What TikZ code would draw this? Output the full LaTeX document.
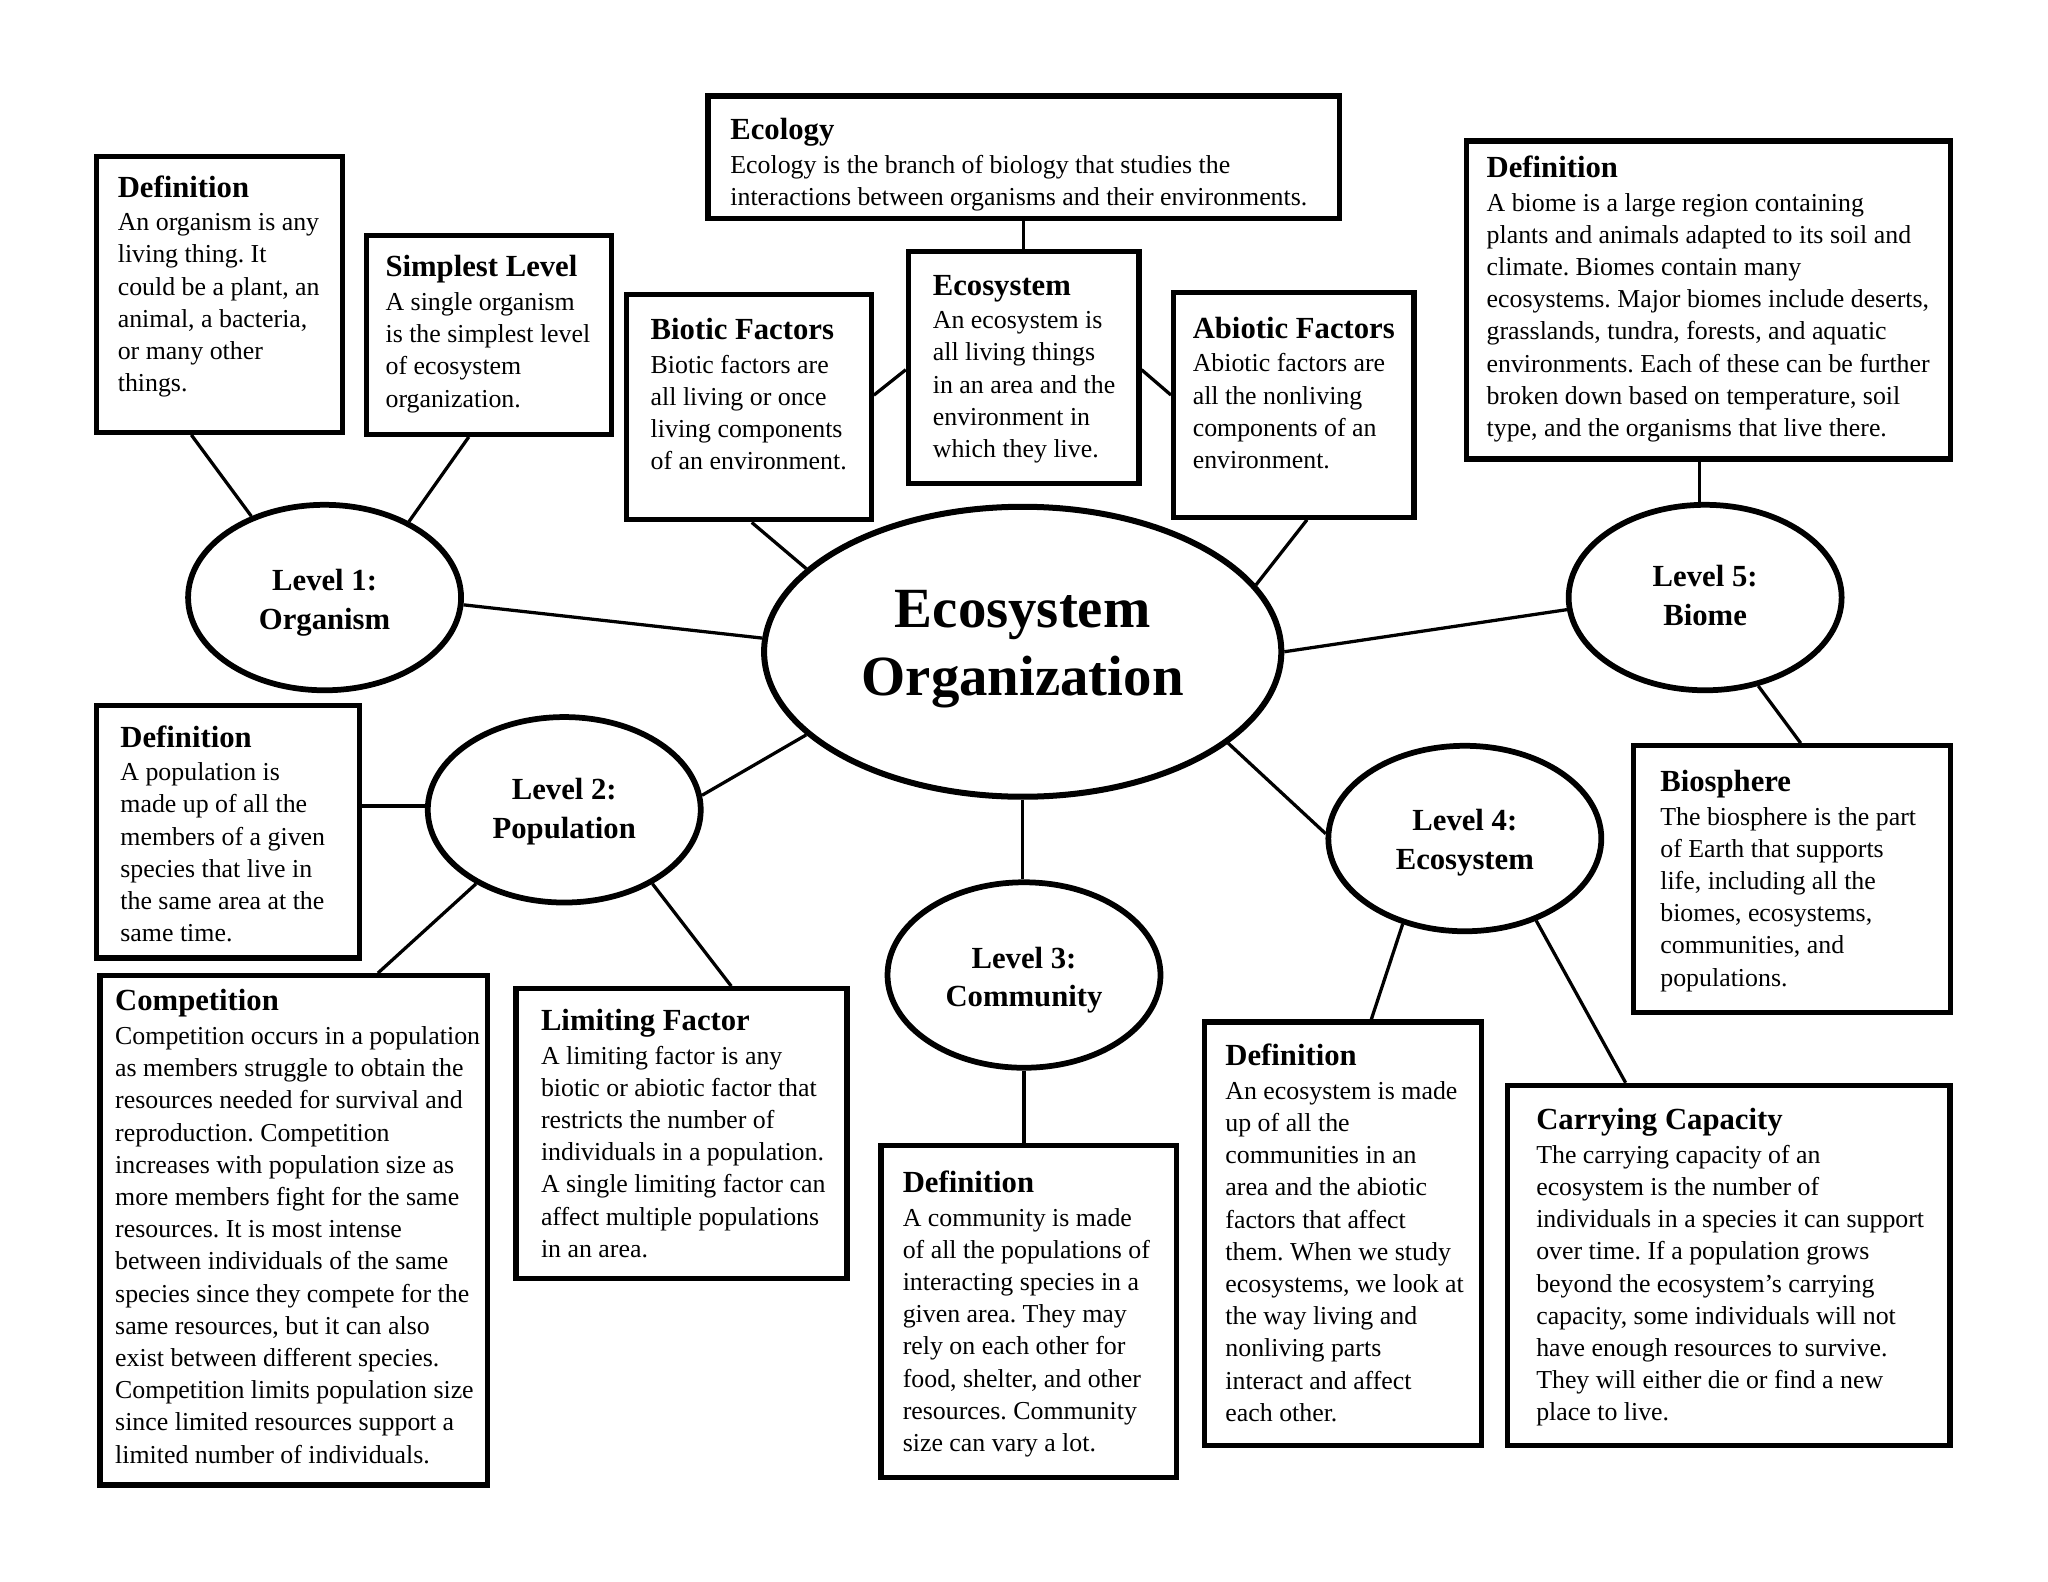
\documentclass[tikz,border=0pt]{standalone}
\usepackage{fontspec}
\setmainfont{Liberation Serif}
\usetikzlibrary{shapes.geometric,fit,calc}
\frenchspacing
\newcommand\bodyfont{\fontsize{19.8}{24.65}\selectfont}
\newcommand\headfont{\bfseries\fontsize{23.5}{29.5}\selectfont}
\newcommand\bigfont{\bfseries\fontsize{43.5}{52}\selectfont}
% name, x1, y1, x2, y2, text x, title y, title, body
\newcommand\infobox[9]{%
  \node[boxsty, fit={(#2,#3) (#4,#5)}] (#1) {};
  \node[titlesty] (#1-title) at (#6,#7+8) {#8};
  \node[bodysty] (#1-body) at (#6,#7+16.24) {\strut #9};
}
\begin{document}
\begin{tikzpicture}[x=1pt,y=-1pt,
  boxsty/.style={draw=black, line width=4pt, inner sep=0pt, rectangle},
  titlesty/.style={anchor=base west, inner sep=0pt, font=\headfont},
  bodysty/.style={anchor=north west, inner sep=0pt, align=left, font=\bodyfont},
  lvl/.style={draw=black, line width=4.4pt, ellipse, inner sep=0pt, minimum width=209pt, minimum height=142pt},
  lvltxt/.style={anchor=north, inner sep=0pt, align=center, font=\headfont},
  conn/.style={draw=black, line width=2.5pt}]
\fill[white] (0,0) rectangle (1568,1211.2);
\useasboundingbox (0,0) rectangle (1568,1211.2);

% central ellipse and levels
\node[draw=black, line width=4.6pt, ellipse, inner sep=0pt, minimum width=396pt, minimum height=222pt] (c) at (783,499) {};
\node[anchor=north, inner sep=0pt, align=center, font=\bigfont] (ct) at (783,443.6) {\strut Ecosystem\\Organization};

\node[lvl] (l1) at (248.5,457.5) {};
\node[lvltxt] (l1t) at (248.5,431.35) {\strut Level 1:\\Organism};
\node[lvl] (l2) at (432,620) {};
\node[lvltxt] (l2t) at (432,591.35) {\strut Level 2:\\Population};
\node[lvl] (l3) at (784,746.5) {};
\node[lvltxt] (l3t) at (784,720.35) {\strut Level 3:\\Community};
\node[lvl] (l4) at (1121.5,642) {};
\node[lvltxt] (l4t) at (1121.5,615.35) {\strut Level 4:\\Ecosystem};
\node[lvl] (l5) at (1305.5,457.5) {};
\node[lvltxt] (l5t) at (1305.5,428.35) {\strut Level 5:\\Biome};

% boxes
\infobox{ecol}{542}{73.5}{1025.5}{167}{559}{99}{Ecology}{Ecology is the branch of biology that studies the\\interactions between organisms and their environments.}
\infobox{odef}{74}{120}{262}{331}{90}{143}{Definition}{An organism is any\\living thing. It\\could be a plant, an\\animal, a bacteria,\\or many other\\things.}
\infobox{simp}{280.5}{180.5}{468}{332.5}{295}{204}{Simplest Level}{A single organism\\is the simplest level\\of ecosystem\\organization.}
\infobox{biot}{479.5}{225.5}{667}{398}{498}{252}{Biotic Factors}{Biotic factors are\\all living or once\\living components\\of an environment.}
\infobox{ecob}{695.5}{192.5}{872}{370}{714}{218}{Ecosystem}{An ecosystem is\\all living things\\in an area and the\\environment in\\which they live.}
\infobox{abio}{898.5}{224}{1082.5}{396}{913}{251}{Abiotic Factors}{Abiotic factors are\\all the nonliving\\components of an\\environment.}
\infobox{biome}{1123}{108}{1493.5}{351.5}{1138}{128}{Definition}{A biome is a large region containing\\plants and animals adapted to its soil and\\climate. Biomes contain many\\ecosystems. Major biomes include deserts,\\grasslands, tundra, forests, and aquatic\\environments. Each of these can be further\\broken down based on temperature, soil\\type, and the organisms that live there.}
\infobox{biosp}{1250.5}{571}{1493.5}{775}{1271}{598}{Biosphere}{The biosphere is the part\\of Earth that supports\\life, including all the\\biomes, ecosystems,\\communities, and\\populations.}
\infobox{pdef}{74}{540}{275}{733.5}{92}{564}{Definition}{A population is\\made up of all the\\members of a given\\species that live in\\the same area at the\\same time.}
\infobox{comp}{76.5}{747}{373}{1137}{88}{766}{Competition}{Competition occurs in a population\\as members struggle to obtain the\\resources needed for survival and\\reproduction. Competition\\increases with population size as\\more members fight for the same\\resources. It is most intense\\between individuals of the same\\species since they compete for the\\same resources, but it can also\\exist between different species.\\Competition limits population size\\since limited resources support a\\limited number of individuals.}
\infobox{limf}{395}{757}{648.5}{979}{414}{781}{Limiting Factor}{A limiting factor is any\\biotic or abiotic factor that\\restricts the number of\\individuals in a population.\\A single limiting factor can\\affect multiple populations\\in an area.}
\infobox{cdef}{674.5}{877}{900.5}{1131}{691}{905}{Definition}{A community is made\\of all the populations of\\interacting species in a\\given area. They may\\rely on each other for\\food, shelter, and other\\resources. Community\\size can vary a lot.}
\infobox{edef}{922}{782.5}{1134.5}{1106.5}{938}{808}{Definition}{An ecosystem is made\\up of all the\\communities in an\\area and the abiotic\\factors that affect\\them. When we study\\ecosystems, we look at\\the way living and\\nonliving parts\\interact and affect\\each other.}
\infobox{carr}{1154}{831}{1493}{1106.5}{1176}{857}{Carrying Capacity}{The carrying capacity of an\\ecosystem is the number of\\individuals in a species it can support\\over time. If a population grows\\beyond the ecosystem’s carrying\\capacity, some individuals will not\\have enough resources to survive.\\They will either die or find a new\\place to live.}

% connectors
\draw[conn] (ecol.south) -- (ecol.south |- ecob.north);
\draw[conn] ($(biot.north east)!0.448!(biot.south east)$) -- ($(ecob.north west)!0.51!(ecob.south west)$);
\draw[conn] ($(ecob.north east)!0.51!(ecob.south east)$) -- ($(abio.north west)!0.457!(abio.south west)$);
\draw[conn] ($(odef.south west)!0.388!(odef.south east)$) -- (l1.132.5);
\draw[conn] ($(simp.south west)!0.42!(simp.south east)$) -- (l1.42.3);
\draw[conn] ($(biot.south west)!0.512!(biot.south east)$) -- (c.159.1);
\draw[conn] ($(abio.south west)!0.554!(abio.south east)$) -- (c.16.95);
\draw[conn] (l1.-3.5) -- (c.177.9);
\draw[conn] (c.0) -- (l5.-175.9);
\draw[conn] ($(biome.south west)!0.481!(biome.south east)$) coordinate (bm) -- (bm |- l5.north);
\draw[conn] (l5.-59.4) -- ($(biosp.north west)!0.527!(biosp.north east)$);
\draw[conn] (c.-159.3) -- (l2.6.5);
\draw[conn] ($(pdef.north east)!0.4!(pdef.south east)$) coordinate (pd) -- (pd -| l2.west);
\draw[conn] (l2.-140.8) -- ($(comp.north west)!0.715!(comp.north east)$);
\draw[conn] (l2.-40.6) -- ($(limf.north west)!0.648!(limf.north east)$);
\draw[conn] (c.south) -- (c.south |- l3.north);
\draw[conn] (c.-24.3) -- (l4.178.7);
\draw[conn] (l3.south) -- (l3.south |- cdef.north);
\draw[conn] (l4.-126.3) -- ($(edef.north west)!0.6!(edef.north east)$);
\draw[conn] (l4.-49.1) -- ($(carr.north west)!0.27!(carr.north east)$);
\end{tikzpicture}
\end{document}
